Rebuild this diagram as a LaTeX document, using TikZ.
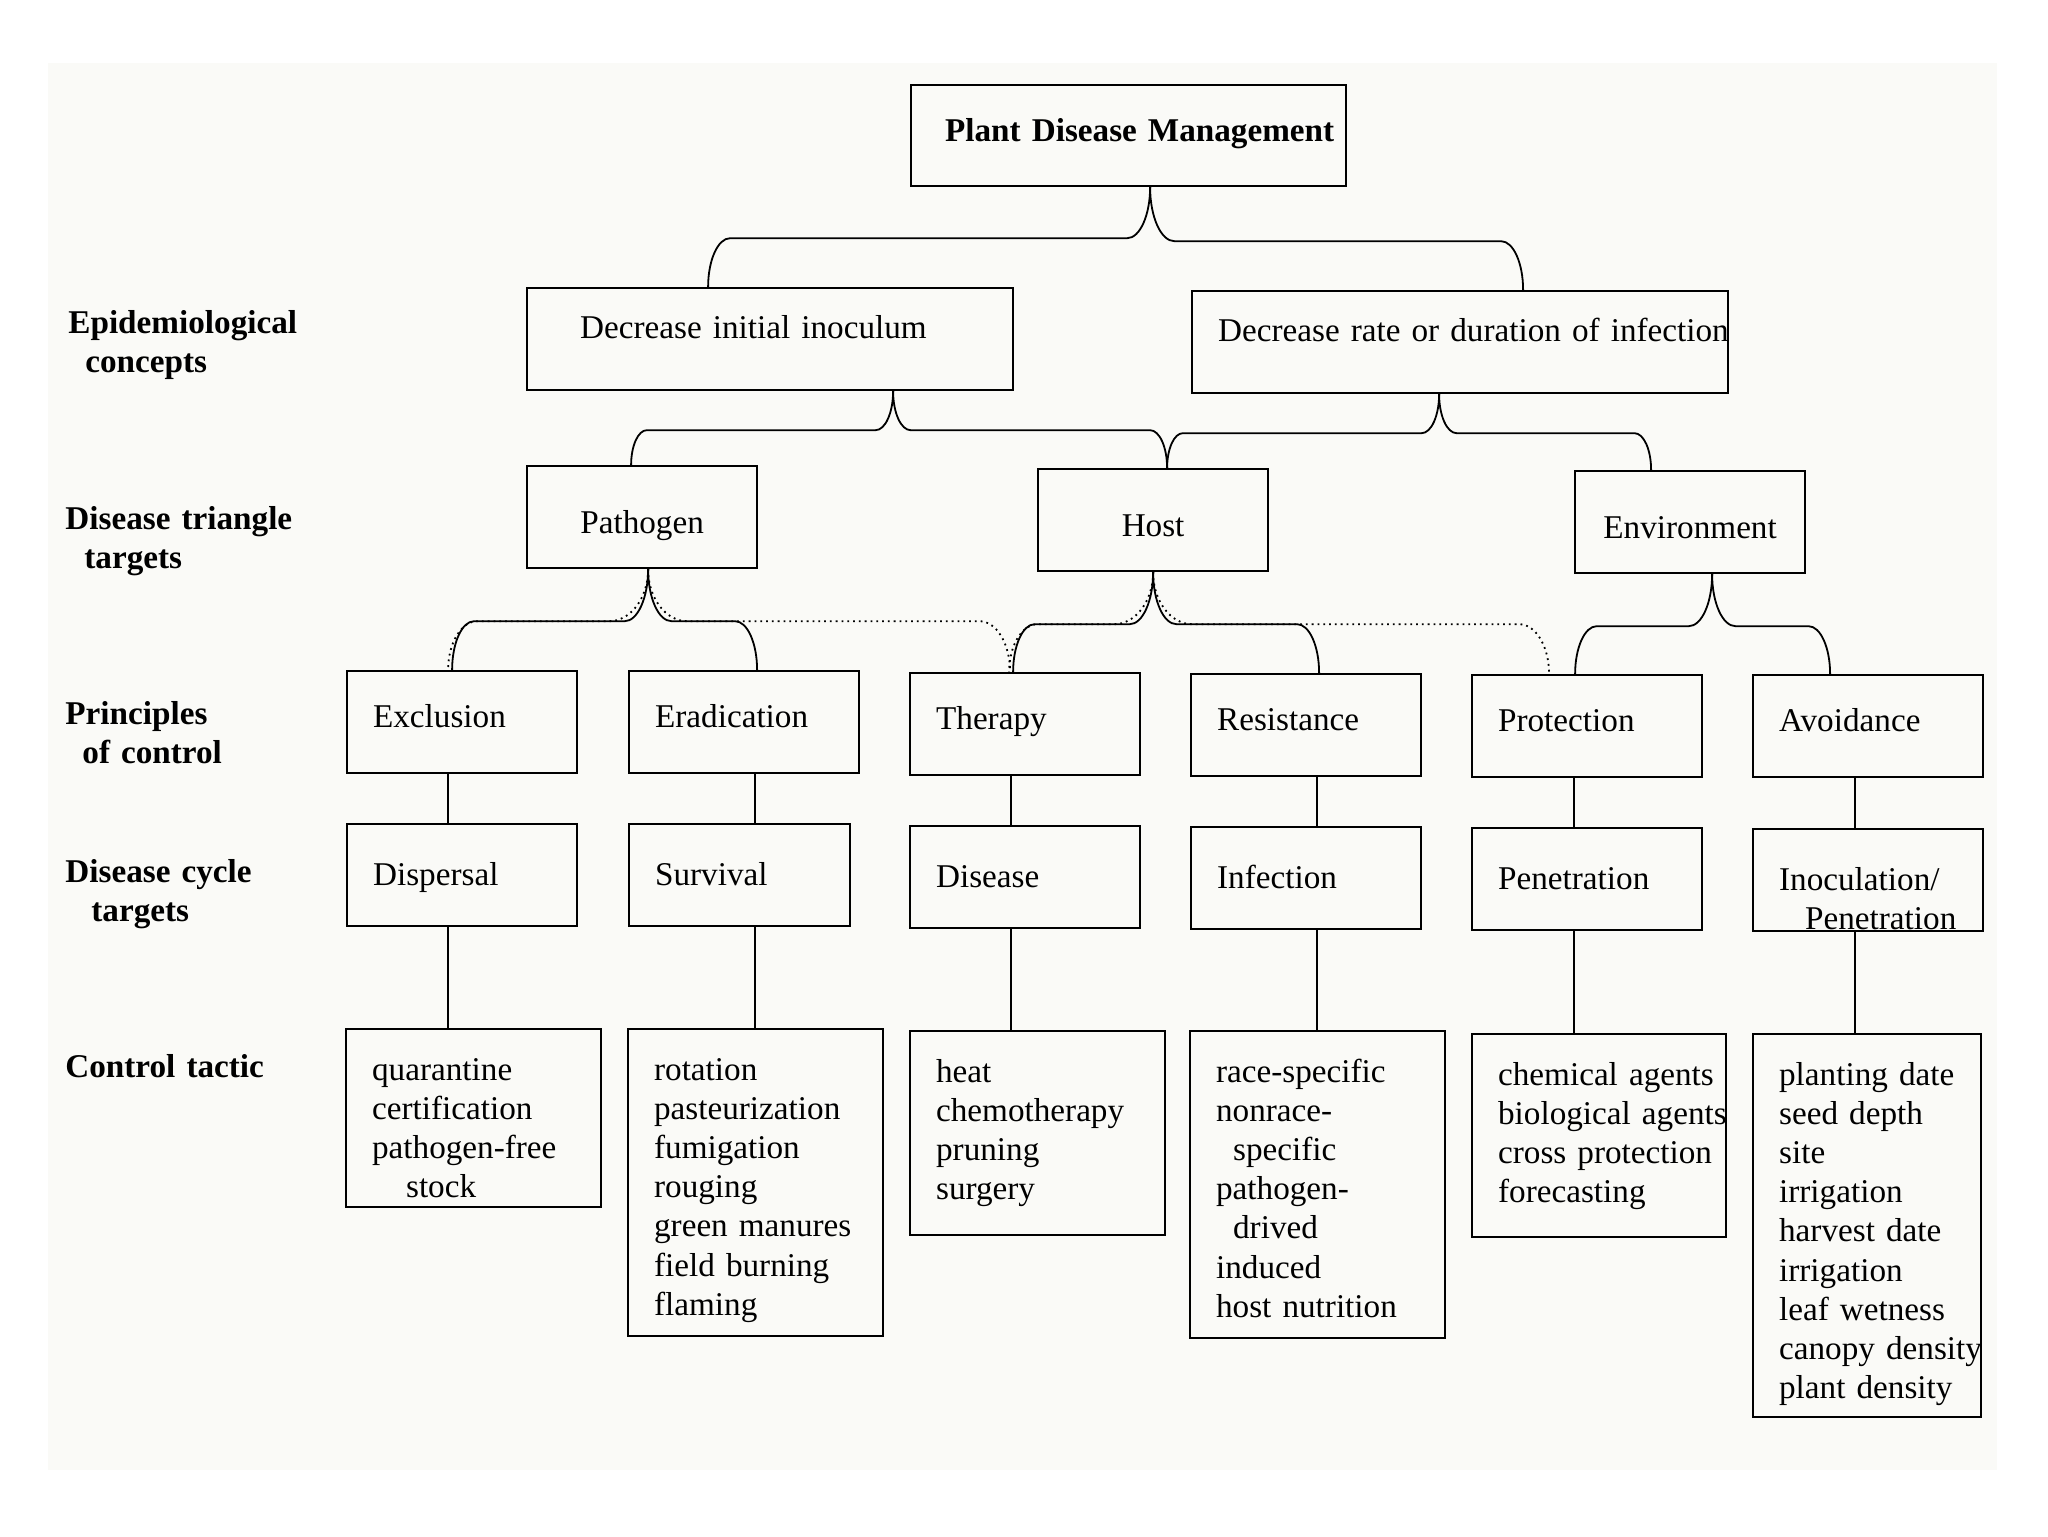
\documentclass[tikz,border=0pt]{standalone}
\usepackage{fontspec}
\setmainfont{Liberation Serif}
\usetikzlibrary{calc}
\definecolor{paper}{RGB}{250,250,247}
\newcommand*{\fsz}{\fontsize{16.6}{19.6}\selectfont}
\newcommand*{\ind}{\hspace*{17pt}}
\newcommand*{\sind}{\hspace*{8.5pt}}
\hyphenpenalty=10000
\exhyphenpenalty=10000

\tikzset{
    box/.style={draw, line width=1.1pt, anchor=north west, inner xsep=13pt, inner ysep=0pt, align=left, font=\fsz},
    tri/.style={box, align=center, inner xsep=10pt, text width=95pt, text height=33.5pt, text depth=17.5pt},
    prn/.style={box, text width=89pt, text height=28pt, text depth=23pt},
    cyc/.style={box, text width=89pt, text height=30.5pt, text depth=20.5pt},
    tac/.style={box, text width=101.5pt, text height=25.5pt},
    lbl/.style={anchor=north west, inner sep=0pt, text width=140pt, align=left, text height=12pt, font=\fsz\bfseries},
    link/.style={line width=0.9pt},
    dotlink/.style={line width=0.9pt, dotted},
    brace path/.style n args={3}{to path={
        let \p1=(\tikztostart), \p2=(\tikztotarget),
            \n1={sign(\x2-\x1)}, \n2={\y1-#1}, \n3={\y1-#1-\y2},
            \n4={#2*#1}, \n5={#3*\n3} in
        (\p1) .. controls (\x1,{\y1-0.552*#1}) and ({\x1+\n1*0.448*\n4*1pt},{\n2*1pt})
              .. ({\x1+\n1*\n4*1pt},{\n2*1pt})
        -- ({\x2-\n1*\n5*1pt},{\n2*1pt})
        .. controls ({\x2-\n1*0.448*\n5*1pt},{\n2*1pt}) and (\x2,{\y2+0.552*\n3*1pt}) .. (\p2)}},
    curl/.style={brace path={#1}{0.45}{0.45}},
    dcurl/.style={brace path={#1}{0.75}{0.6}},
}

\begin{document}
\begin{tikzpicture}[x=0.5pt, y=-0.5pt]
    \useasboundingbox (0,0) rectangle (2048,1536);
    \fill[paper] (48,63) rectangle (1997,1470);

    % row labels
    \node[lbl] (lepi) at (68,309)  {Epidemiological\\\sind concepts};
    \node[lbl] (ltri) at (65,505)  {Disease triangle\\\hspace*{9.5pt}targets};
    \node[lbl] (lpri) at (65,700)  {Principles\\\sind of control};
    \node[lbl] (lcyc) at (65,858)  {Disease cycle\\\hspace*{13pt}targets};
    \node[lbl] (ltac) at (65,1053) {Control tactic};

    % top levels
    \node[box, font=\fsz\bfseries, inner xsep=17pt, text width=183.5pt, text height=28pt, text depth=22.5pt] (ttl) at (910,84) {\mbox{Plant Disease Management}};
    \node[box, inner xsep=26.5pt, text width=190pt, text height=25pt, text depth=26pt] (di) at (526,287) {Decrease initial inoculum};
    \node[box, text width=242pt, text height=25pt, text depth=26pt] (dr) at (1191,290) {\mbox{Decrease rate or duration of infection}};

    \node[tri] (pat) at (526,465)  {Pathogen};
    \node[tri] (hst) at (1037,468) {Host};
    \node[tri] (env) at (1574,470) {Environment};

    % principles of control
    \node[prn] (exc) at (346,670)  {Exclusion};
    \node[prn] (era) at (628,670)  {Eradication};
    \node[prn] (thr) at (909,672)  {Therapy};
    \node[prn] (res) at (1190,673) {Resistance};
    \node[prn] (pro) at (1471,674) {Protection};
    \node[prn] (avo) at (1752,674) {Avoidance};

    % disease cycle targets
    \node[cyc] (dsp) at (346,823)  {Dispersal};
    \node[cyc, text width=84.5pt] (srv) at (628,823) {Survival};
    \node[cyc] (dis) at (909,825)  {Disease};
    \node[cyc] (inf) at (1190,826) {Infection};
    \node[cyc] (pen) at (1471,827) {Penetration};
    \node[cyc] (ino) at (1752,828) {Inoculation/\\\mbox{\hspace*{13pt}Penetration}};

    % control tactics
    \node[tac, text depth=63.5pt] (qua) at (345,1028) {quarantine\\certification\\pathogen-free\\\ind stock};
    \node[tac, text depth=128pt] (rot) at (627,1028) {rotation\\pasteurization\\fumigation\\rouging\\green~manures\\field~burning\\flaming};
    \node[tac, text depth=76.5pt] (hea) at (909,1030) {heat\\chemotherapy\\pruning\\surgery};
    \node[tac, text depth=128pt] (rac) at (1189,1030) {race-specific\\nonrace-\\\sind specific\\pathogen-\\\sind drived\\induced\\host~nutrition};
    \node[tac, text width=101pt, text depth=76pt] (che) at (1471,1033) {\mbox{chemical agents}\\\mbox{biological agents}\\\mbox{cross protection}\\forecasting};
    \node[tac, text width=88pt, text depth=166pt] (pla) at (1752,1033) {\mbox{planting date}\\seed~depth\\site\\irrigation\\\mbox{harvest date}\\irrigation\\\mbox{leaf wetness}\\\mbox{canopy density}\\\mbox{plant density}};

    % braces
    \draw[link] ([xshift=10.75pt]ttl.south) to[curl=25.5pt] ([xshift=-31pt]di.north);
    \draw[link] ([xshift=10.75pt]ttl.south) to[curl=27pt] ([xshift=31.5pt]dr.north);
    \draw[link] ([xshift=61.5pt]di.south) to[curl=19.5pt] ([xshift=-5.5pt]pat.north);
    \draw[link] ([xshift=61.5pt]di.south) to[curl=19.5pt] ([xshift=7pt]hst.north);
    \draw[link] ([xshift=-10.5pt]dr.south) to[curl=19.5pt] ([xshift=7pt]hst.north);
    \draw[link] ([xshift=-10.5pt]dr.south) to[curl=19.5pt] ([xshift=-19.5pt]env.north);
    \draw[link] ([xshift=3pt]pat.south) to[curl=26pt] ([xshift=-5pt]exc.north);
    \draw[link] ([xshift=3pt]pat.south) to[curl=26pt] ([xshift=6.5pt]era.north);
    \draw[link] (hst.south) to[curl=26pt] ([xshift=-6pt]thr.north);
    \draw[link] (hst.south) to[curl=26pt] ([xshift=6.5pt]res.north);
    \draw[link] ([xshift=11pt]env.south) to[curl=26pt] ([xshift=-6pt]pro.north);
    \draw[link] ([xshift=11pt]env.south) to[curl=26pt] ([xshift=-19pt]avo.north);
    % dotted links
    \draw[dotlink] ([xshift=3pt]pat.south) to[dcurl=26pt] ([xshift=-7pt]exc.north);
    \draw[dotlink] ([xshift=3pt]pat.south) to[dcurl=26pt] ([xshift=-7.5pt]thr.north);
    \draw[dotlink] (hst.south) to[dcurl=26pt] ([xshift=-8pt]thr.north);
    \draw[dotlink] (hst.south) to[dcurl=26pt] ([xshift=-19pt]pro.north);

    % stems
    \coordinate (c1) at (448,0);
    \coordinate (c2) at (755,0);
    \coordinate (c3) at (1011,0);
    \coordinate (c4) at (1317,0);
    \coordinate (c5) at (1574,0);
    \coordinate (c6) at (1855,0);
    \foreach \cl/\pa/\cy/\ta in {c1/exc/dsp/qua, c2/era/srv/rot, c3/thr/dis/hea, c4/res/inf/rac, c5/pro/pen/che, c6/avo/ino/pla} {
        \draw[link] (\pa.south -| \cl) -- (\cy.north -| \cl);
        \draw[link] (\cy.south -| \cl) -- (\ta.north -| \cl);
    }
\end{tikzpicture}
\end{document}
